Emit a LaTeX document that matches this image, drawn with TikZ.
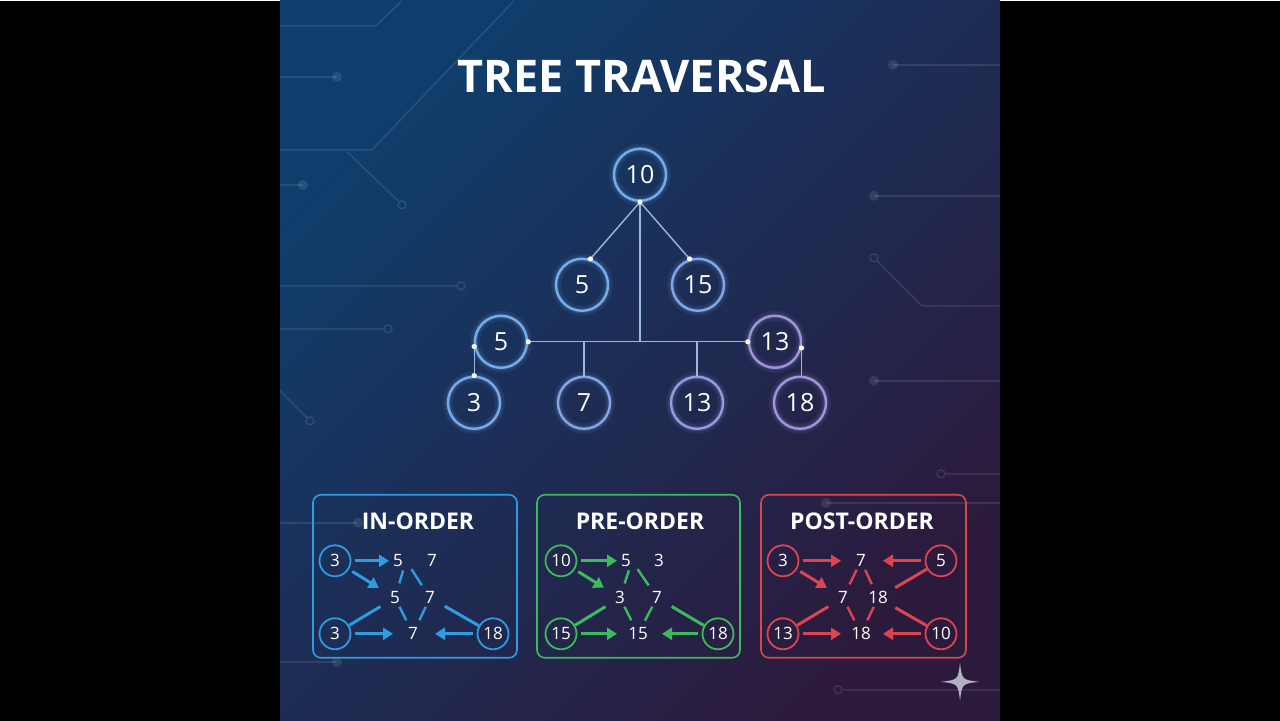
\documentclass[tikz,border=0pt]{standalone}
\usepackage{fontspec}
\setmainfont{Open Sans}
\usetikzlibrary{arrows.meta}
\definecolor{bgtop}{HTML}{0F3E6C}
\definecolor{bgmid}{HTML}{19295A}
\definecolor{bgbot}{HTML}{2C1A3C}
\definecolor{treeA}{HTML}{74AEEE}
\definecolor{treeB}{HTML}{A294DA}
\definecolor{treeline}{HTML}{9AB6E2}
\definecolor{inblue}{HTML}{2E9CE0}
\definecolor{pregreen}{HTML}{3DBA5C}
\definecolor{postred}{HTML}{DC4550}
\definecolor{sparkle}{HTML}{B4B0C4}

\begin{document}
\begin{tikzpicture}[x=0.5pt,y=-0.5pt,
    tnode/.style={draw=#1,circle,minimum size=26pt,inner sep=0pt,line width=1.2pt,text=white,
      font=\fontsize{12.5}{14}\selectfont,preaction={draw=#1,line width=5pt,opacity=.09},
      postaction={draw=#1,line width=2.6pt,opacity=.15}},
    treeedge/.style={draw=treeline,line width=.7pt},
    bcirc/.style={draw=#1,circle,minimum size=15.5pt,inner sep=0pt,line width=.9pt,text=white,
      font=\fontsize{8.5}{10}\selectfont},
    btxt/.style={text=white,inner sep=1pt,font=\fontsize{8.5}{10}\selectfont},
    arr/.style={draw=#1,line width=1.5pt,shorten <=2pt,-{Triangle[length=5pt,width=6pt]}},
    lnk/.style={draw=#1,line width=1.5pt},
    seg/.style={draw=#1,line width=1.2pt,shorten <=5pt,shorten >=7.5pt},
    boxframe/.style={draw=#1,line width=.8pt,rounded corners=4pt},
    boxhead/.style={text=white,font=\bfseries\fontsize{11.5}{13}\selectfont},
    circuit/.style={draw=white,opacity=.1,line width=.8pt}]

% background
\fill[black] (0,0) rectangle (1280,720);
\shade[left color=bgtop,middle color=bgmid,right color=bgbot,shading angle=45] (280,0) rectangle (1000,720);

% circuit traces
\draw[circuit] (280,25) -- (376,25) -- (402,0);
\draw[circuit] (280,149) -- (372,149) -- (514,0);
\draw[circuit] (347,151) -- (399,201) (402,204) circle (2pt);
\draw[circuit] (280,76) -- (337,76); \fill[white,opacity=.1] (337,76) circle (2.5pt);
\draw[circuit] (280,184) -- (303,184); \fill[white,opacity=.1] (303,184) circle (2.5pt);
\draw[circuit] (280,285) -- (457,285) (461,285) circle (2pt);
\draw[circuit] (280,328) -- (384,328) (388,328) circle (2pt);
\draw[circuit] (280,390) -- (307,417) (310,420) circle (2pt);
\draw[circuit] (280,522) -- (357,522); \fill[white,opacity=.1] (358,522) circle (2.5pt);
\draw[circuit] (280,661) -- (337,661); \fill[white,opacity=.1] (337,661) circle (2.5pt);
\draw[circuit] (893,64) -- (1000,64); \fill[white,opacity=.1] (893,64) circle (2.5pt);
\draw[circuit] (874,195) -- (1000,195); \fill[white,opacity=.1] (874,195) circle (2.5pt);
\draw[circuit] (877,260) -- (922,305) -- (1000,305) (874,257) circle (2pt);
\draw[circuit] (874,380) -- (1000,380); \fill[white,opacity=.1] (874,380) circle (2.5pt);
\draw[circuit] (945,473) -- (1000,473) (941,473) circle (2pt);
\draw[circuit] (826,502) -- (1000,502); \fill[white,opacity=.1] (826,502) circle (2.5pt);
\draw[circuit] (842,689) -- (1000,689) (838,689) circle (2pt);

% title
\node[text=white,font=\bfseries\fontsize{22.5}{26}\selectfont] (title) at (642,76) {TREE TRAVERSAL};

% tree
\node[tnode=treeA] (n10) at (640,174) {10};
\node[tnode=treeA] (n5) at (582,284) {5};
\node[tnode=treeA!75!treeB] (n15) at (698,284) {15};
\node[tnode=treeA] (nL) at (501,341) {5};
\node[tnode=treeB] (nR) at (775,341) {13};
\node[tnode=treeA!90!treeB] (n3) at (474,402) {3};
\node[tnode=treeA!65!treeB] (n7) at (584,402) {7};
\node[tnode=treeA!35!treeB] (n13) at (697,402) {13};
\node[tnode=treeB] (n18) at (800,402) {18};
\coordinate (hub) at (640,341);

\draw[treeedge] (n10.south) -- (n5.72);
\draw[treeedge] (n10.south) -- (n15.108);
\draw[treeedge] (n10.south) -- (hub);
\draw[treeedge] (nL.east) -- (nR.west);
\draw[treeedge] (n7.north |- hub) -- (n7.north);
\draw[treeedge] (n13.north |- hub) -- (n13.north);
\draw[treeedge] (nL.190) -- (nL.190 |- n3.north);
\draw[treeedge] (nR.-13) -- (nR.-13 |- n18.north);
\foreach \p in {n10.south,n5.72,n15.108,nL.east,nR.west,nL.190,nR.-13,nL.190 |- n3.north}
  \fill[white] (\p) circle (1.3pt);

% in-order
\draw[boxframe=inblue] (313,494) rectangle (517,657);
\node[boxhead] (inhead) at (418,520) {IN-ORDER};
\node[bcirc=inblue] (i3a) at (335,560) {3};
\node[btxt] (i5a) at (398,560) {5};
\node[btxt] (i7a) at (432,560) {7};
\node[btxt] (i5b) at (395,597) {5};
\node[btxt] (i7b) at (430,597) {7};
\node[bcirc=inblue] (i3b) at (335,633) {3};
\node[btxt] (i7c) at (413,633) {7};
\node[bcirc=inblue] (i18) at (493,633) {18};
\draw[arr=inblue,shorten >=4.5pt] (i3a) -- (i5a.center);
\draw[arr=inblue,shorten >=9.5pt] (i3a) -- (i5b.center);
\draw[arr=inblue,shorten >=10pt] (i3b) -- (i7c.center);
\draw[arr=inblue,shorten >=11pt] (i18) -- (i7c.center);
\draw[lnk=inblue,shorten >=8.5pt] (i3b) -- (i5b.center);
\draw[lnk=inblue,shorten >=8.5pt] (i18) -- (i7b.center);
\draw[seg=inblue] ([xshift=4pt]i5a.center) -- (i5b.center);
\draw[seg=inblue] ([xshift=4pt]i5a.center) -- (i7b.center);
\draw[seg=inblue] (i5b.center) -- (i7c.center);
\draw[seg=inblue] (i7b.center) -- (i7c.center);

% pre-order
\draw[boxframe=pregreen] (537,494) rectangle (740,657);
\node[boxhead] (prehead) at (640,520) {PRE-ORDER};
\node[bcirc=pregreen] (p10) at (561,560) {10};
\node[btxt] (p5a) at (626,560) {5};
\node[btxt] (p3a) at (659,560) {3};
\node[btxt] (p3b) at (620,597) {3};
\node[btxt] (p7b) at (657,597) {7};
\node[bcirc=pregreen] (p15) at (561,633) {15};
\node[btxt] (p15c) at (638,633) {15};
\node[bcirc=pregreen] (p18) at (718,633) {18};
\draw[arr=pregreen,shorten >=4.5pt] (p10) -- (p5a.center);
\draw[arr=pregreen,shorten >=9.5pt] (p10) -- (p3b.center);
\draw[arr=pregreen,shorten >=10.5pt] (p15) -- (p15c.center);
\draw[arr=pregreen,shorten >=12pt] (p18) -- (p15c.center);
\draw[lnk=pregreen,shorten >=8.5pt] (p15) -- (p3b.center);
\draw[lnk=pregreen,shorten >=8.5pt] (p18) -- (p7b.center);
\draw[seg=pregreen] ([xshift=3pt]p5a.center) -- (p3b.center);
\draw[seg=pregreen] ([xshift=3pt]p5a.center) -- (p7b.center);
\draw[seg=pregreen] (p3b.center) -- (p15c.center);
\draw[seg=pregreen] (p7b.center) -- (p15c.center);

% post-order
\draw[boxframe=postred] (761,494) rectangle (966,657);
\node[boxhead] (posthead) at (862,520) {POST-ORDER};
\node[bcirc=postred] (q3a) at (783,560) {3};
\node[btxt] (q7a) at (861,560) {7};
\node[bcirc=postred] (q5) at (941,560) {5};
\node[btxt] (q7b) at (843,597) {7};
\node[btxt] (q18b) at (878,597) {18};
\node[bcirc=postred] (q13) at (783,633) {13};
\node[btxt] (q18c) at (861,633) {18};
\node[bcirc=postred] (q10) at (941,633) {10};
\draw[arr=postred,shorten >=10pt] (q3a) -- (q7a.center);
\draw[arr=postred,shorten >=11pt] (q5) -- (q7a.center);
\draw[arr=postred,shorten >=9.5pt] (q3a) -- (q7b.center);
\draw[arr=postred,shorten >=10pt] (q13) -- (q18c.center);
\draw[arr=postred,shorten >=11pt] (q10) -- (q18c.center);
\draw[lnk=postred,shorten >=10pt] (q5) -- (q18b.center);
\draw[lnk=postred,shorten >=8.5pt] (q13) -- (q7b.center);
\draw[lnk=postred,shorten >=10pt] (q10) -- (q18b.center);
\draw[seg=postred] (q7a.center) -- (q7b.center);
\draw[seg=postred] (q7a.center) -- (q18b.center);
\draw[seg=postred] (q7b.center) -- (q18c.center);
\draw[seg=postred] (q18b.center) -- (q18c.center);

% sparkle
\fill[sparkle] (960,662) .. controls (962,679) .. (979,681) .. controls (962,683) .. (960,700)
  .. controls (958,683) .. (941,681) .. controls (958,679) .. (960,662) -- cycle;
\end{tikzpicture}
\end{document}
